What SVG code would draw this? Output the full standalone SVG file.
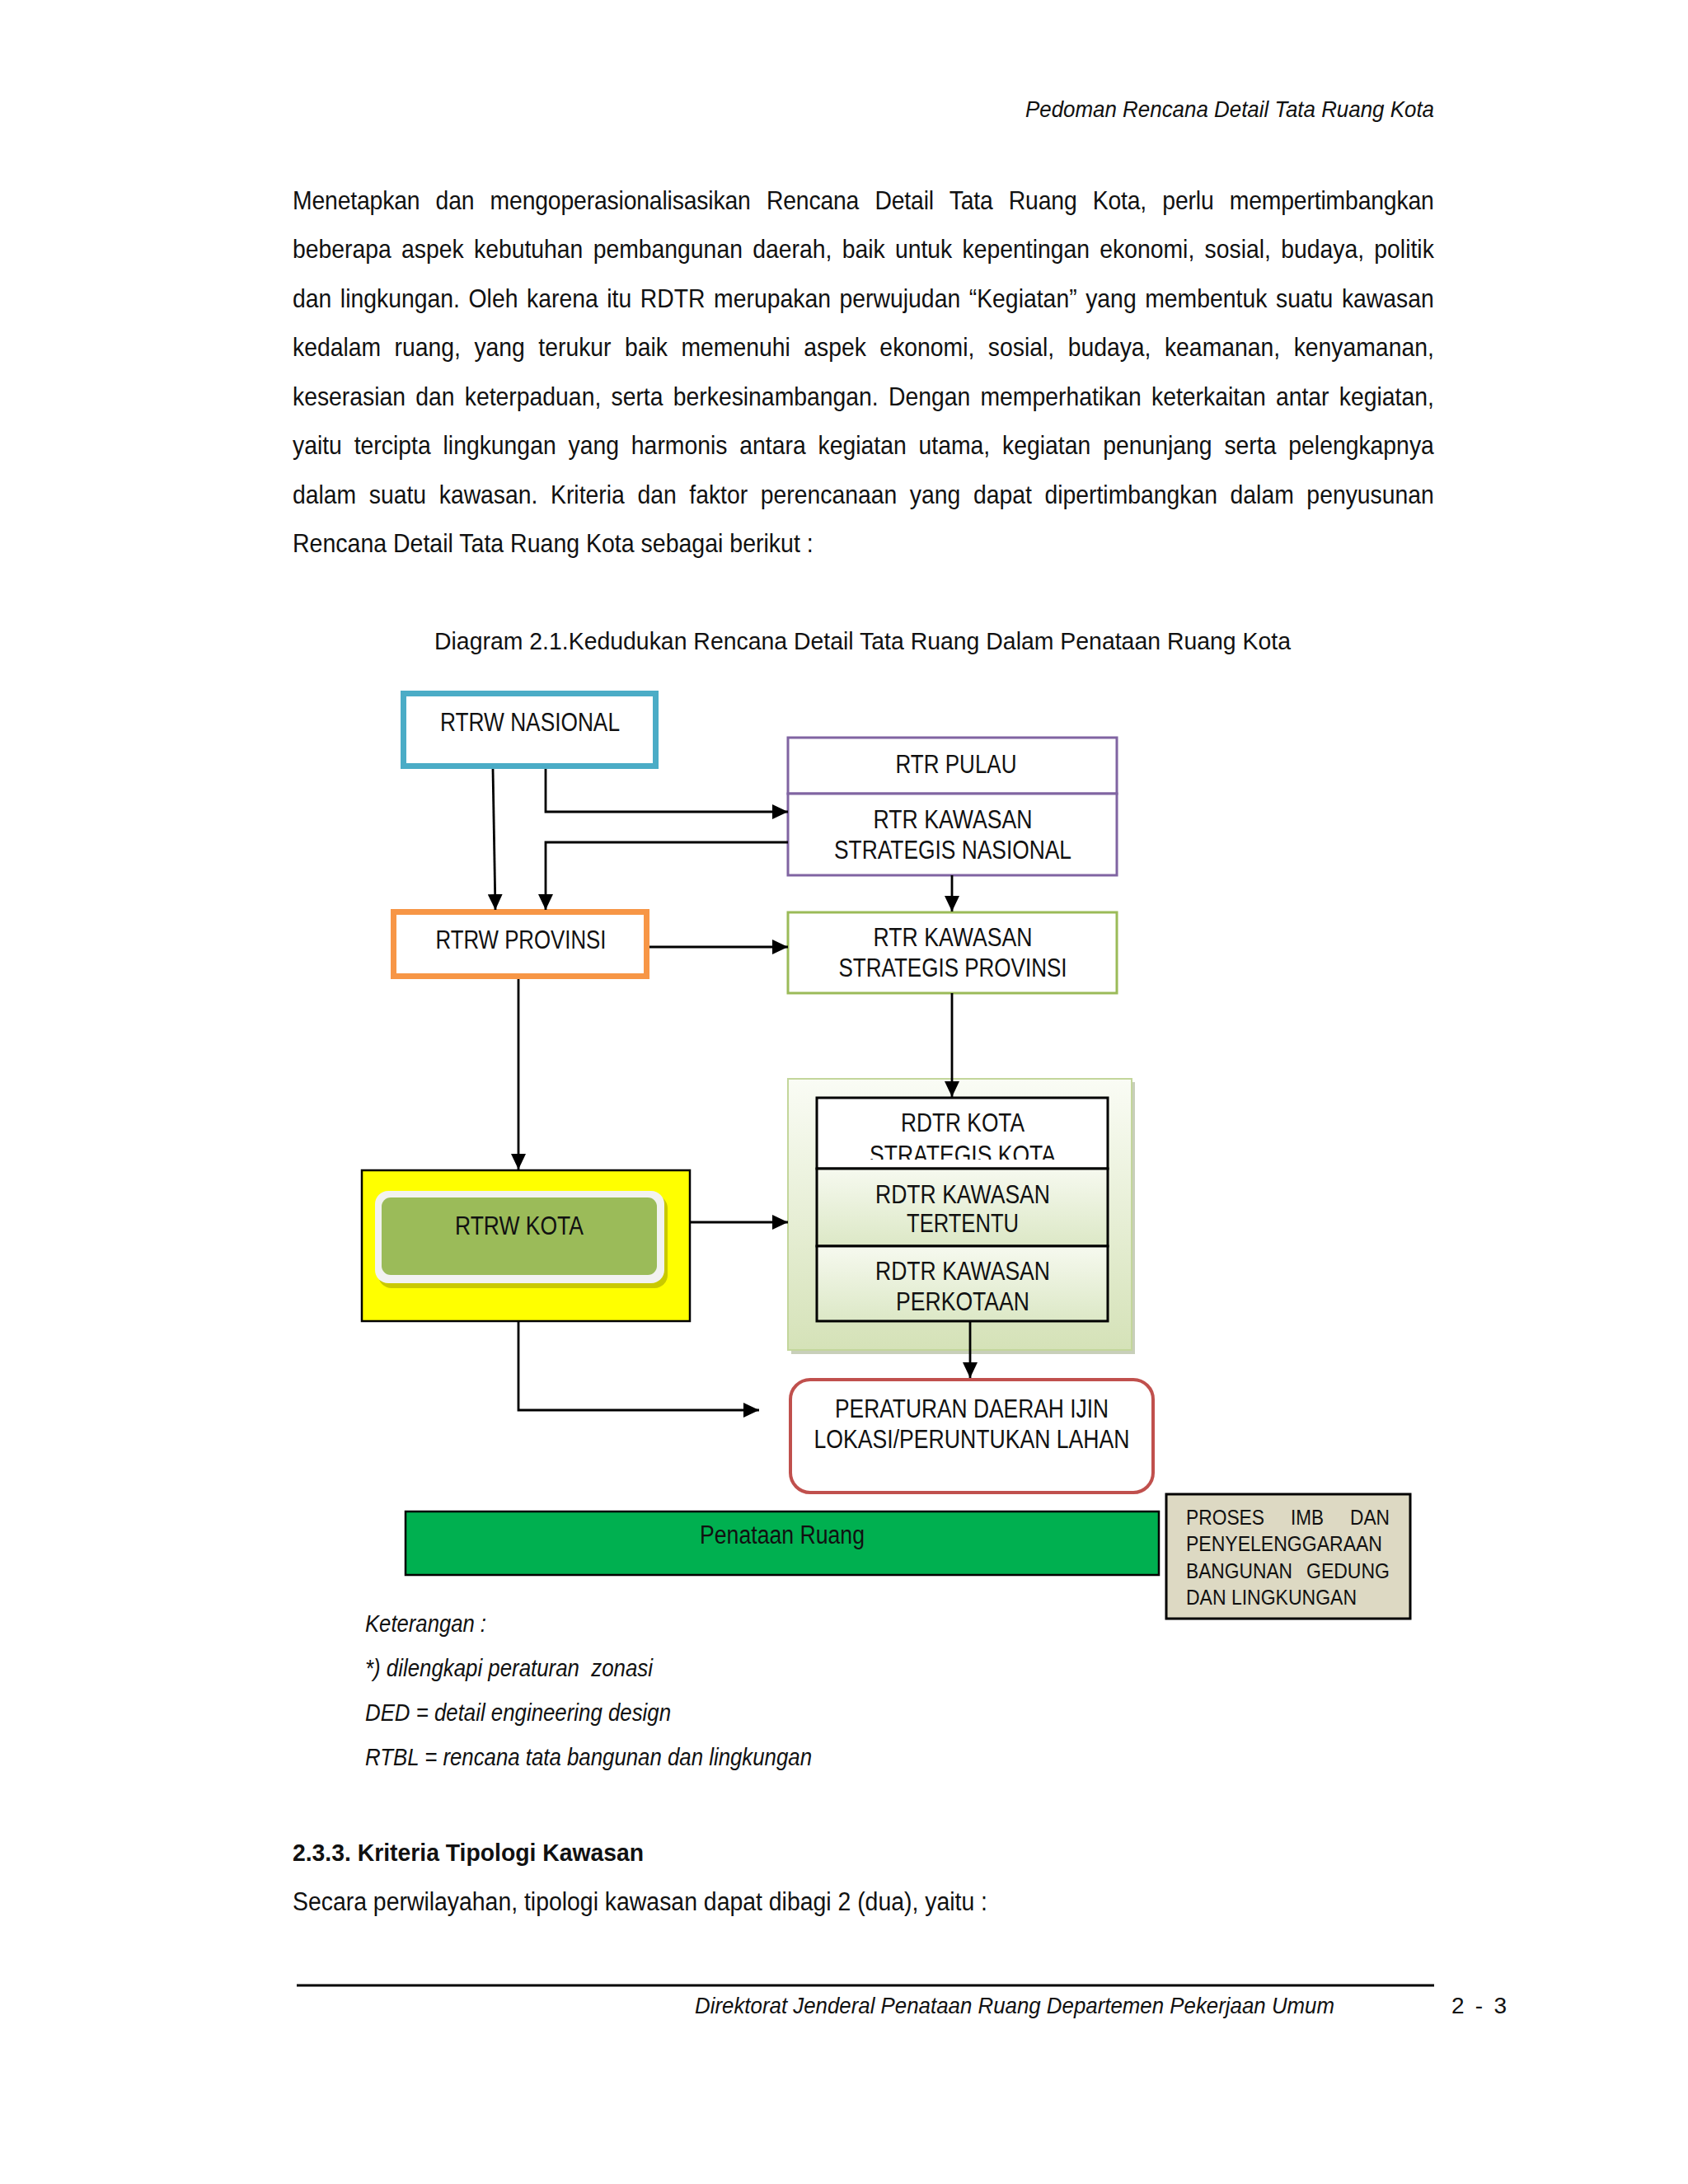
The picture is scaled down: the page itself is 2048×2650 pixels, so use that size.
<svg xmlns="http://www.w3.org/2000/svg" width="2048" height="2650" viewBox="0 0 2048 2650">
<defs>
<style>
.t{font-family:"Liberation Sans",Arial,sans-serif;fill:#111}
.b{font-size:32px}
.lab{font-size:31px;text-anchor:middle}
.it{font-style:italic}
.pre{white-space:pre}
.conn{fill:none;stroke:#000;stroke-width:2.8}
</style>
<marker id="ah" markerUnits="userSpaceOnUse" markerWidth="19" markerHeight="18" refX="19" refY="9" orient="auto">
<path d="M0,0 L19,9 L0,18 z" fill="#000"/>
</marker>
<linearGradient id="gC" x1="0" y1="0" x2="0" y2="1">
<stop offset="0" stop-color="#FAFCF5"/>
<stop offset="1" stop-color="#D5E2B8"/>
</linearGradient>
<linearGradient id="gI" x1="0" y1="0" x2="0" y2="1">
<stop offset="0" stop-color="#F6F9EF"/>
<stop offset="1" stop-color="#DCE8C6"/>
</linearGradient>
<clipPath id="clipK"><rect x="991" y="1332" width="353" height="75"/></clipPath>
</defs>
<rect width="2048" height="2650" fill="#fff"/>

<g id="page-text">
<text class="t it" x="1740" y="142" font-size="28" text-anchor="end" textLength="496" lengthAdjust="spacingAndGlyphs">Pedoman Rencana Detail Tata Ruang Kota</text>
<g transform="translate(355 0) scale(0.886 1)" class="t b">
<text x="0" y="254" word-spacing="13" textLength="1563" lengthAdjust="spacing">Menetapkan dan mengoperasionalisasikan Rencana Detail Tata Ruang Kota, perlu mempertimbangkan</text>
<text x="0" y="313.5" word-spacing="5" textLength="1563" lengthAdjust="spacing">beberapa aspek kebutuhan pembangunan daerah, baik untuk kepentingan ekonomi, sosial, budaya, politik</text>
<text x="0" y="373" word-spacing="3" textLength="1563" lengthAdjust="spacing">dan lingkungan. Oleh karena itu RDTR merupakan perwujudan “Kegiatan” yang membentuk suatu kawasan</text>
<text x="0" y="432.5" word-spacing="9.7" textLength="1563" lengthAdjust="spacing">kedalam ruang, yang terukur baik memenuhi aspek ekonomi, sosial, budaya, keamanan, kenyamanan,</text>
<text x="0" y="492" word-spacing="4.9" textLength="1563" lengthAdjust="spacing">keserasian dan keterpaduan, serta berkesinambangan. Dengan memperhatikan keterkaitan antar kegiatan,</text>
<text x="0" y="551.5" word-spacing="7.9" textLength="1563" lengthAdjust="spacing">yaitu tercipta lingkungan yang harmonis antara kegiatan utama, kegiatan penunjang serta pelengkapnya</text>
<text x="0" y="611" word-spacing="8.7" textLength="1563" lengthAdjust="spacing">dalam suatu kawasan. Kriteria dan faktor perencanaan yang dapat dipertimbangkan dalam penyusunan</text>
<text x="0" y="670.5" textLength="713" lengthAdjust="spacingAndGlyphs">Rencana Detail Tata Ruang Kota sebagai berikut :</text>
</g>
<text class="t" x="527" y="788" font-size="29" textLength="1039" lengthAdjust="spacingAndGlyphs">Diagram 2.1.Kedudukan Rencana Detail Tata Ruang Dalam Penataan Ruang Kota</text>
</g>

<g id="rtrw-nasional">
<rect x="489.5" y="841.5" width="306" height="88" fill="#fff" stroke="#4BACC6" stroke-width="7"/>
<text class="t lab" x="643" y="887" textLength="218" lengthAdjust="spacingAndGlyphs">RTRW NASIONAL</text>
</g>

<g id="rtr-pulau">
<rect x="956" y="895" width="399" height="68" fill="#fff" stroke="#8064A2" stroke-width="3"/>
<text class="t lab" x="1160" y="938" textLength="147" lengthAdjust="spacingAndGlyphs">RTR PULAU</text>
</g>

<g id="rtr-ksn">
<rect x="956" y="963" width="399" height="99" fill="#fff" stroke="#8064A2" stroke-width="3"/>
<text class="t lab" x="1156" y="1005" textLength="193" lengthAdjust="spacingAndGlyphs">RTR KAWASAN</text>
<text class="t lab" x="1156" y="1042" textLength="288" lengthAdjust="spacingAndGlyphs">STRATEGIS NASIONAL</text>
</g>

<g id="rtrw-provinsi">
<rect x="477.5" y="1106.5" width="307" height="78" fill="#fff" stroke="#F79646" stroke-width="7"/>
<text class="t lab" x="632" y="1151" textLength="207" lengthAdjust="spacingAndGlyphs">RTRW PROVINSI</text>
</g>

<g id="rtr-ksp">
<rect x="956" y="1107" width="399" height="98" fill="#fff" stroke="#9BBB59" stroke-width="3"/>
<text class="t lab" x="1156" y="1148" textLength="193" lengthAdjust="spacingAndGlyphs">RTR KAWASAN</text>
<text class="t lab" x="1156" y="1185" textLength="277" lengthAdjust="spacingAndGlyphs">STRATEGIS PROVINSI</text>
</g>

<g id="rtrw-kota">
<rect x="439" y="1420" width="398" height="183" fill="#FFFF00" stroke="#000" stroke-width="2.5"/>
<rect x="459" y="1450" width="351" height="113" rx="16" fill="#C9C900"/>
<rect x="455" y="1445" width="351" height="112" rx="16" fill="#F2F2F0"/>
<rect x="463" y="1453" width="334" height="94" rx="11" fill="#9BBB59"/>
<text class="t lab" x="630" y="1498" textLength="156" lengthAdjust="spacingAndGlyphs">RTRW KOTA</text>
</g>

<g id="rdtr-group">
<rect x="960" y="1313" width="417" height="330" fill="#C8CFBA"/>
<rect x="956" y="1309" width="417" height="329" fill="url(#gC)" stroke="#C3D69B" stroke-width="2"/>
</g>

<g id="rdtr-kota">
<rect x="991" y="1332" width="353" height="86" fill="#fff" stroke="#000" stroke-width="3"/>
<text class="t lab" x="1168" y="1373" font-size="30" textLength="150" lengthAdjust="spacingAndGlyphs">RDTR KOTA</text>
<text class="t lab" x="1168" y="1412" font-size="30" clip-path="url(#clipK)" textLength="226" lengthAdjust="spacingAndGlyphs">STRATEGIS KOTA</text>
</g>

<g id="rdtr-tertentu">
<rect x="991" y="1418" width="353" height="94" fill="url(#gI)" stroke="#000" stroke-width="3"/>
<text class="t lab" x="1168" y="1460" font-size="30" textLength="212" lengthAdjust="spacingAndGlyphs">RDTR KAWASAN</text>
<text class="t lab" x="1168" y="1495" font-size="30" textLength="136" lengthAdjust="spacingAndGlyphs">TERTENTU</text>
</g>

<g id="rdtr-perkotaan">
<rect x="991" y="1512" width="353" height="91" fill="url(#gI)" stroke="#000" stroke-width="3"/>
<text class="t lab" x="1168" y="1553" font-size="30" textLength="212" lengthAdjust="spacingAndGlyphs">RDTR KAWASAN</text>
<text class="t lab" x="1168" y="1590" font-size="30" textLength="162" lengthAdjust="spacingAndGlyphs">PERKOTAAN</text>
</g>

<g id="peraturan-daerah">
<rect x="959" y="1674" width="440" height="137" rx="24" fill="#fff" stroke="#C0504D" stroke-width="4"/>
<text class="t lab" x="1179" y="1720" font-size="30" textLength="332" lengthAdjust="spacingAndGlyphs">PERATURAN DAERAH IJIN</text>
<text class="t lab" x="1179" y="1757" font-size="30" textLength="383" lengthAdjust="spacingAndGlyphs">LOKASI/PERUNTUKAN LAHAN</text>
</g>

<g id="penataan-ruang">
<rect x="492" y="1834" width="914" height="77" fill="#00B050" stroke="#000" stroke-width="2.5"/>
<text class="t lab" x="949" y="1873" font-size="28" textLength="200" lengthAdjust="spacingAndGlyphs">Penataan Ruang</text>
</g>

<g id="proses-imb">
<rect x="1415" y="1813" width="296" height="151" fill="#DDD9C3" stroke="#000" stroke-width="3"/>
<g class="t" font-size="26">
<text x="1439" y="1850" textLength="95" lengthAdjust="spacingAndGlyphs">PROSES</text>
<text x="1566" y="1850" textLength="40" lengthAdjust="spacingAndGlyphs">IMB</text>
<text x="1638" y="1850" textLength="48" lengthAdjust="spacingAndGlyphs">DAN</text>
<text x="1439" y="1882" textLength="238" lengthAdjust="spacingAndGlyphs">PENYELENGGARAAN</text>
<text x="1439" y="1915" textLength="129" lengthAdjust="spacingAndGlyphs">BANGUNAN</text>
<text x="1585" y="1915" textLength="101" lengthAdjust="spacingAndGlyphs">GEDUNG</text>
<text x="1439" y="1947" textLength="207" lengthAdjust="spacingAndGlyphs">DAN LINGKUNGAN</text>
</g>
</g>

<g id="connectors">
<path class="conn" d="M598 933 L601 1104" marker-end="url(#ah)"/>
<path class="conn" d="M662 933 V985 H956" marker-end="url(#ah)"/>
<path class="conn" d="M956 1022 H662 V1104" marker-end="url(#ah)"/>
<path class="conn" d="M1155 1062 V1106" marker-end="url(#ah)"/>
<path class="conn" d="M788 1149 H956" marker-end="url(#ah)"/>
<path class="conn" d="M629 1188 V1419" marker-end="url(#ah)"/>
<path class="conn" d="M1155 1205 V1331" marker-end="url(#ah)"/>
<path class="conn" d="M837 1483 H956" marker-end="url(#ah)"/>
<path class="conn" d="M1177 1603 V1672" marker-end="url(#ah)"/>
<path class="conn" d="M629 1603 V1711 H921" marker-end="url(#ah)"/>
</g>

<g id="legend" class="t it" font-size="30">
<text x="443" y="1980" textLength="147" lengthAdjust="spacingAndGlyphs">Keterangan :</text>
<text class="pre" x="443" y="2034" textLength="349" lengthAdjust="spacingAndGlyphs">*) dilengkapi peraturan  zonasi</text>
<text x="443" y="2088" textLength="371" lengthAdjust="spacingAndGlyphs">DED = detail engineering design</text>
<text x="443" y="2142" textLength="542" lengthAdjust="spacingAndGlyphs">RTBL = rencana tata bangunan dan lingkungan</text>
</g>

<g id="section">
<text class="t" x="355" y="2258" font-size="30" font-weight="bold" textLength="426" lengthAdjust="spacingAndGlyphs">2.3.3. Kriteria Tipologi Kawasan</text>
<text class="t" x="355" y="2318" font-size="31" textLength="843" lengthAdjust="spacingAndGlyphs">Secara perwilayahan, tipologi kawasan dapat dibagi 2 (dua), yaitu :</text>
</g>

<g id="footer">
<path d="M360 2409 H1740" stroke="#000" stroke-width="3"/>
<text class="t it" x="843" y="2443" font-size="28" textLength="776" lengthAdjust="spacingAndGlyphs">Direktorat Jenderal Penataan Ruang Departemen Pekerjaan Umum</text>
<text class="t" x="1761" y="2443" font-size="28" textLength="67" lengthAdjust="spacing">2 - 3</text>
</g>
</svg>
